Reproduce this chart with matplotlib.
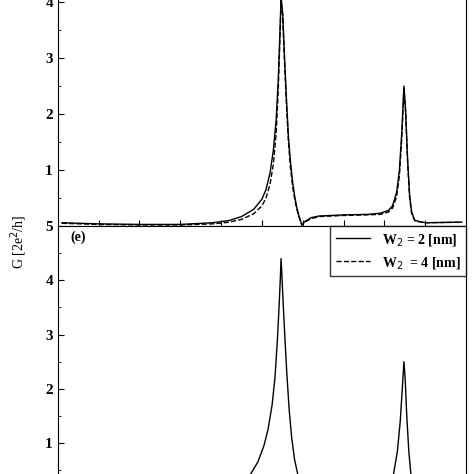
import numpy as np
import matplotlib.pyplot as plt

plt.rcParams['font.family'] = ['Liberation Serif', 'DejaVu Serif']

# top panel
x_top = [0.01, 0.1, 0.2, 0.3, 0.38, 0.42, 0.45, 0.48, 0.5, 0.51, 0.52, 0.528, 0.535, 0.54,
         0.544, 0.547, 0.551, 0.555, 0.56, 0.565, 0.57, 0.575, 0.58, 0.585, 0.59, 0.598,
         0.605, 0.62, 0.64, 0.7, 0.76, 0.79, 0.81, 0.82, 0.83, 0.837, 0.843, 0.848,
         0.852, 0.857, 0.862, 0.867, 0.875, 0.9, 0.99]
g_top_w2 = [0.06, 0.04, 0.03, 0.03, 0.06, 0.1, 0.17, 0.3, 0.48, 0.65, 0.95, 1.35, 1.9, 2.6,
            3.4, 4.1, 3.8, 3.1, 2.3, 1.6, 1.15, 0.8, 0.55, 0.35, 0.2, 0.02,
            0.08, 0.15, 0.18, 0.2, 0.21, 0.23, 0.28, 0.36, 0.6, 1.0, 1.7, 2.5,
            2.1, 1.2, 0.55, 0.25, 0.1, 0.06, 0.07]
g_top_w4 = [0.05, 0.03, 0.02, 0.02, 0.04, 0.07, 0.12, 0.22, 0.36, 0.5, 0.75, 1.1, 1.65, 2.4,
            3.3, 4.0, 3.75, 3.0, 2.2, 1.5, 1.05, 0.72, 0.5, 0.32, 0.18, 0.02,
            0.07, 0.13, 0.17, 0.19, 0.2, 0.21, 0.25, 0.32, 0.52, 0.9, 1.6, 2.45,
            2.05, 1.15, 0.5, 0.22, 0.09, 0.06, 0.07]

# bottom panel
x_bot = [0.3, 0.47, 0.49, 0.505, 0.515, 0.525, 0.532, 0.538, 0.542, 0.545, 0.547, 0.549,
         0.552, 0.556, 0.561, 0.567, 0.573, 0.58, 0.59, 0.62,
         0.78, 0.822, 0.832, 0.839, 0.844, 0.848, 0.851, 0.855, 0.86, 0.866, 0.9]
g_bot_w2 = [-1.0, 0.4, 0.65, 0.95, 1.25, 1.7, 2.2, 2.9, 3.5, 4.0, 4.4, 4.1,
            3.6, 3.0, 2.3, 1.6, 1.1, 0.7, 0.35, -1.0,
            -1.0, 0.4, 0.85, 1.4, 2.0, 2.5, 2.2, 1.5, 0.85, 0.35, -1.0]

fig = plt.figure(figsize=(4.74, 4.74), dpi=100)
ax1 = fig.add_axes([0.122, 0.523, 0.861, 0.477])
ax2 = fig.add_axes([0.122, 0.0, 0.861, 0.523], sharex=ax1)

ax1.plot(x_top, g_top_w2, color='black', lw=1.0)
ax1.plot(x_top, g_top_w4, color='black', lw=1.0, ls='--')
ax1.set_ylim(0, 4.036)
ax1.set_yticks([1, 2, 3, 4])
ax1.spines['top'].set_visible(False)

ax2.plot(x_bot, g_bot_w2, color='black', lw=1.0, label='W$_2$ = 2 [nm]')
ax2.plot([], [], color='black', lw=1.0, ls='--', label='W$_2$  = 4 [nm]')
ax2.set_ylim(0.43, 5)
ax2.set_yticks([1, 2, 3, 4, 5])
ax2.text(0.03, 4.72, '(e)', fontsize=10, fontweight='bold')
leg = ax2.legend(loc='upper right', fancybox=False, edgecolor='black', borderaxespad=0,
                 prop={'size': 10, 'weight': 'bold'}, handlelength=2.5)
leg.get_frame().set_linewidth(1.0)

for ax in (ax1, ax2):
    ax.set_xlim(0, 1)
    ax.set_xticks(np.arange(0.1, 1.0, 0.1))
    ax.tick_params(labelbottom=False, direction='in', length=4)
    ax.yaxis.set_minor_locator(plt.MultipleLocator(0.5))
    ax.tick_params(axis='y', which='minor', direction='in', length=2)
    ax.tick_params(axis='y', labelsize=11)
    for t in ax.get_yticklabels():
        t.set_fontweight('bold')
ax2.spines['bottom'].set_visible(False)
ax2.tick_params(axis='x', bottom=False)

fig.text(0.04, 0.49, 'G [2e$^2$/h]', rotation=90, ha='center', va='center', fontsize=10)

plt.savefig('out.png', dpi=100)
